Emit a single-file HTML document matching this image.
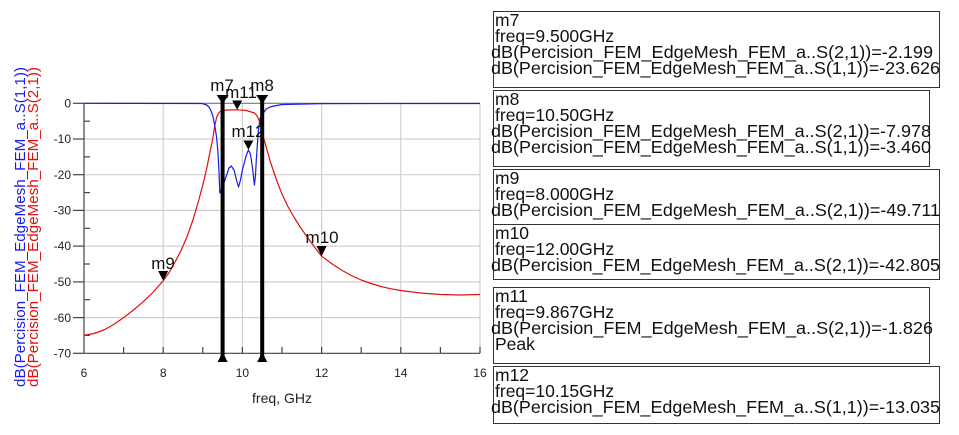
<!DOCTYPE html>
<html><head><meta charset="utf-8"><style>
html,body{margin:0;padding:0;background:#fff;}
svg{display:block;font-family:"Liberation Sans",Arial,sans-serif;}
</style></head><body>
<svg width="959" height="435" viewBox="0 0 959 435" xmlns="http://www.w3.org/2000/svg">
<rect width="959" height="435" fill="#fff"/>
<g stroke="#d0d0d0" stroke-width="1.2">
<line x1="163.2" y1="103.3" x2="163.2" y2="353.3"/>
<line x1="242.4" y1="103.3" x2="242.4" y2="353.3"/>
<line x1="321.6" y1="103.3" x2="321.6" y2="353.3"/>
<line x1="400.8" y1="103.3" x2="400.8" y2="353.3"/>
<line x1="480" y1="103.3" x2="480" y2="353.3"/>
<line x1="84" y1="139" x2="480" y2="139"/>
<line x1="84" y1="174.7" x2="480" y2="174.7"/>
<line x1="84" y1="210.4" x2="480" y2="210.4"/>
<line x1="84" y1="246.1" x2="480" y2="246.1"/>
<line x1="84" y1="281.9" x2="480" y2="281.9"/>
<line x1="84" y1="317.6" x2="480" y2="317.6"/>
</g>
<g stroke="#444" stroke-width="1.2">
<line x1="84" y1="103.3" x2="84" y2="353.3"/>
<line x1="84" y1="353.3" x2="480" y2="353.3"/>
<line x1="84" y1="103.3" x2="480" y2="103.3" stroke="#777"/>
<line x1="73" y1="103.3" x2="84" y2="103.3"/><line x1="73" y1="139" x2="84" y2="139"/>
<line x1="73" y1="174.7" x2="84" y2="174.7"/><line x1="73" y1="210.4" x2="84" y2="210.4"/>
<line x1="73" y1="246.1" x2="84" y2="246.1"/><line x1="73" y1="281.9" x2="84" y2="281.9"/>
<line x1="73" y1="317.6" x2="84" y2="317.6"/><line x1="73" y1="353.3" x2="84" y2="353.3"/>
<line x1="84" y1="121.2" x2="90" y2="121.2"/><line x1="84" y1="156.9" x2="90" y2="156.9"/>
<line x1="84" y1="192.6" x2="90" y2="192.6"/><line x1="84" y1="228.3" x2="90" y2="228.3"/>
<line x1="84" y1="264" x2="90" y2="264"/><line x1="84" y1="299.7" x2="90" y2="299.7"/>
<line x1="84" y1="335.4" x2="90" y2="335.4"/>
<line x1="123.6" y1="347" x2="123.6" y2="353.3"/><line x1="163.2" y1="347" x2="163.2" y2="353.3"/>
<line x1="202.8" y1="347" x2="202.8" y2="353.3"/><line x1="242.4" y1="347" x2="242.4" y2="353.3"/>
<line x1="282" y1="347" x2="282" y2="353.3"/><line x1="321.6" y1="347" x2="321.6" y2="353.3"/>
<line x1="361.2" y1="347" x2="361.2" y2="353.3"/><line x1="400.8" y1="347" x2="400.8" y2="353.3"/>
<line x1="440.4" y1="347" x2="440.4" y2="353.3"/><line x1="480" y1="347" x2="480" y2="353.3"/>
</g>
<g font-size="12" fill="#222" text-anchor="end">
<text x="71" y="107.5">0</text><text x="71" y="143">-10</text><text x="71" y="179">-20</text>
<text x="71" y="214.5">-30</text><text x="71" y="250">-40</text><text x="71" y="286">-50</text>
<text x="71" y="322">-60</text><text x="71" y="357.5">-70</text>
</g>
<g font-size="12" fill="#222" text-anchor="middle">
<text x="84" y="377">6</text><text x="163.2" y="377">8</text><text x="242.4" y="377">10</text>
<text x="321.6" y="377">12</text><text x="400.8" y="377">14</text><text x="480" y="377">16</text>
</g>
<text x="282" y="403" font-size="14" text-anchor="middle" fill="#222">freq, GHz</text>
<text transform="translate(25,387) rotate(-90)" font-size="15" fill="#1a1aee" textLength="320" lengthAdjust="spacingAndGlyphs">dB(Percision_FEM_EdgeMesh_FEM_a..S(1,1))</text>
<text transform="translate(38,387) rotate(-90)" font-size="15" fill="#e01010" textLength="320" lengthAdjust="spacingAndGlyphs">dB(Percision_FEM_EdgeMesh_FEM_a..S(2,1))</text>
<polyline fill="none" stroke="#e01010" stroke-width="1.2" stroke-linejoin="round" points="84,335.4 94,333.5 103.8,330 113.7,324.5 123.6,317.6 133.5,310 143.4,301.6 153.3,292 163.2,280.8 169.2,272.5 175.1,262 181,250.5 186.9,237 192.9,220 198.8,200 202.8,185 206.8,168 209.8,153 212.7,139 214.7,126 216.7,117 218.7,113 220.7,111 226.6,110 237.2,109.8 246.4,110.5 254.4,113 256.4,115 258.4,118.5 260.3,124 262.2,131.8 264.2,140 266.2,147 270.1,161 274.1,173 278,184 282,194 287.9,206.5 293.9,217 299.8,226.5 305.8,235 313.7,246 321.6,256.2 331.5,263.5 341.4,270 351.3,275.5 361.2,280 371.1,283.5 381,286.5 390.9,288.8 400.8,290.5 420.6,293 440.4,294.5 460.2,295 480,294.5"/>
<polyline fill="none" stroke="#1a1aee" stroke-width="1.2" stroke-linejoin="round" points="84,103.3 202,103.5 206.8,105 209,107 210.7,110 212.8,116 214.7,125 216.4,136 217.8,150 218.9,170 219.8,193 221,190 222.6,187 226.6,175 229,168 231.3,166 234,170 236.5,180 238.5,187 240.5,180 242.4,170 246.4,155 248.4,150 250,153 251.1,158 253,172 254.4,185 255.5,175 256.3,160 258.4,130 260.2,118 262.2,115.7 264,112 266.2,109 270,107 274,106 282,104.5 321.6,103.6 480,103.5"/>
<g fill="#000">
<rect x="220.6" y="97" width="4" height="262"/>
<rect x="260.2" y="97" width="4" height="262"/>
<polygon points="216.6,95 228.6,95 222.6,104"/>
<polygon points="256.2,95 268.2,95 262.2,104"/>
<polygon points="217.6,362 227.6,362 222.6,352"/>
<polygon points="257.2,362 267.2,362 262.2,352"/>
<polygon points="158.2,271 168.2,271 163.2,280.8"/>
<polygon points="316.6,246 326.6,246 321.6,256.2"/>
<polygon points="232.2,100.5 242.2,100.5 237.2,109.8"/>
<polygon points="243.4,140.5 253.4,140.5 248.4,149.7"/>
</g>
<g font-size="17" fill="#111" text-anchor="middle">
<text x="222" y="91">m7</text>
<text x="262" y="91">m8</text>
<text x="241" y="98">m11</text>
<text x="248" y="137">m12</text>
<text x="163" y="269">m9</text>
<text x="322" y="243">m10</text>
</g>
<g fill="none" stroke="#333" stroke-width="1">
<rect x="493.5" y="11.5" width="446" height="76"/>
<rect x="493.5" y="90.5" width="436" height="76"/>
<rect x="493.5" y="169.5" width="446" height="55"/>
<rect x="493.5" y="224.5" width="446" height="55"/>
<rect x="493.5" y="287.5" width="436" height="76"/>
<rect x="493.5" y="366.5" width="446" height="57"/>
</g>
<g font-size="17.5" fill="#111">
<text x="495" y="26">m7</text>
<text x="495" y="42">freq=9.500GHz</text>
<text x="491" y="58" textLength="442" lengthAdjust="spacingAndGlyphs">dB(Percision_FEM_EdgeMesh_FEM_a..S(2,1))=-2.199</text>
<text x="491" y="74" textLength="449" lengthAdjust="spacingAndGlyphs">dB(Percision_FEM_EdgeMesh_FEM_a..S(1,1))=-23.626</text>
<text x="495" y="105">m8</text>
<text x="495" y="121">freq=10.50GHz</text>
<text x="491" y="137" textLength="440" lengthAdjust="spacingAndGlyphs">dB(Percision_FEM_EdgeMesh_FEM_a..S(2,1))=-7.978</text>
<text x="491" y="153" textLength="440" lengthAdjust="spacingAndGlyphs">dB(Percision_FEM_EdgeMesh_FEM_a..S(1,1))=-3.460</text>
<text x="495" y="184">m9</text>
<text x="495" y="200">freq=8.000GHz</text>
<text x="491" y="216" textLength="449" lengthAdjust="spacingAndGlyphs">dB(Percision_FEM_EdgeMesh_FEM_a..S(2,1))=-49.711</text>
<text x="495" y="239">m10</text>
<text x="495" y="255">freq=12.00GHz</text>
<text x="491" y="271" textLength="449" lengthAdjust="spacingAndGlyphs">dB(Percision_FEM_EdgeMesh_FEM_a..S(2,1))=-42.805</text>
<text x="495" y="302">m11</text>
<text x="495" y="318">freq=9.867GHz</text>
<text x="491" y="334" textLength="442" lengthAdjust="spacingAndGlyphs">dB(Percision_FEM_EdgeMesh_FEM_a..S(2,1))=-1.826</text>
<text x="495" y="350">Peak</text>
<text x="495" y="381">m12</text>
<text x="495" y="397">freq=10.15GHz</text>
<text x="491" y="413" textLength="449" lengthAdjust="spacingAndGlyphs">dB(Percision_FEM_EdgeMesh_FEM_a..S(1,1))=-13.035</text>
</g>
</svg>
</body></html>
